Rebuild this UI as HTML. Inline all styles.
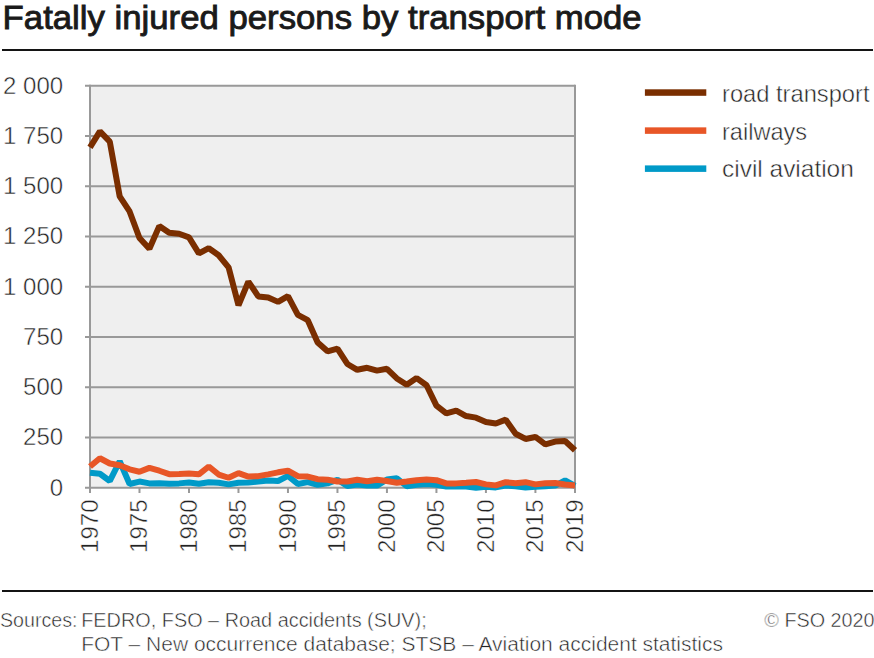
<!DOCTYPE html>
<html><head><meta charset="utf-8"><title>Fatally injured persons by transport mode</title>
<style>html,body{margin:0;padding:0;background:#fff;}svg{display:block;}</style></head>
<body><svg width="874" height="658" viewBox="0 0 874 658">
<text x="2.6" y="29.3" font-family="Liberation Sans, sans-serif" font-size="34" fill="#1a1a1a" stroke="#1a1a1a" stroke-width="0.9" textLength="639" lengthAdjust="spacingAndGlyphs">Fatally injured persons by transport mode</text>
<rect x="2" y="49" width="871" height="2" fill="#141414"/>
<rect x="90.0" y="85.8" width="485.0" height="402.0" fill="#efefef"/>
<line x1="85" y1="487.80" x2="575.0" y2="487.80" stroke="#999999" stroke-width="2"/>
<line x1="85" y1="437.55" x2="575.0" y2="437.55" stroke="#999999" stroke-width="2"/>
<line x1="85" y1="387.30" x2="575.0" y2="387.30" stroke="#999999" stroke-width="2"/>
<line x1="85" y1="337.05" x2="575.0" y2="337.05" stroke="#999999" stroke-width="2"/>
<line x1="85" y1="286.80" x2="575.0" y2="286.80" stroke="#999999" stroke-width="2"/>
<line x1="85" y1="236.55" x2="575.0" y2="236.55" stroke="#999999" stroke-width="2"/>
<line x1="85" y1="186.30" x2="575.0" y2="186.30" stroke="#999999" stroke-width="2"/>
<line x1="85" y1="136.05" x2="575.0" y2="136.05" stroke="#999999" stroke-width="2"/>
<line x1="85" y1="85.80" x2="575.0" y2="85.80" stroke="#999999" stroke-width="2"/>
<line x1="90.0" y1="84.8" x2="90.0" y2="493" stroke="#999999" stroke-width="2"/>
<line x1="575.0" y1="84.8" x2="575.0" y2="493" stroke="#999999" stroke-width="2"/>
<line x1="139.49" y1="487.8" x2="139.49" y2="493" stroke="#999999" stroke-width="2"/>
<line x1="188.98" y1="487.8" x2="188.98" y2="493" stroke="#999999" stroke-width="2"/>
<line x1="238.47" y1="487.8" x2="238.47" y2="493" stroke="#999999" stroke-width="2"/>
<line x1="287.96" y1="487.8" x2="287.96" y2="493" stroke="#999999" stroke-width="2"/>
<line x1="337.45" y1="487.8" x2="337.45" y2="493" stroke="#999999" stroke-width="2"/>
<line x1="386.94" y1="487.8" x2="386.94" y2="493" stroke="#999999" stroke-width="2"/>
<line x1="436.43" y1="487.8" x2="436.43" y2="493" stroke="#999999" stroke-width="2"/>
<line x1="485.92" y1="487.8" x2="485.92" y2="493" stroke="#999999" stroke-width="2"/>
<line x1="535.41" y1="487.8" x2="535.41" y2="493" stroke="#999999" stroke-width="2"/>
<text x="63.1" y="495.50" text-anchor="end" font-family="Liberation Sans, sans-serif" font-size="24" fill="#222222" stroke="#ffffff" stroke-width="0.5">0</text>
<text x="63.1" y="445.25" text-anchor="end" font-family="Liberation Sans, sans-serif" font-size="24" fill="#222222" stroke="#ffffff" stroke-width="0.5">250</text>
<text x="63.1" y="395.00" text-anchor="end" font-family="Liberation Sans, sans-serif" font-size="24" fill="#222222" stroke="#ffffff" stroke-width="0.5">500</text>
<text x="63.1" y="344.75" text-anchor="end" font-family="Liberation Sans, sans-serif" font-size="24" fill="#222222" stroke="#ffffff" stroke-width="0.5">750</text>
<text x="63.1" y="294.50" text-anchor="end" font-family="Liberation Sans, sans-serif" font-size="24" fill="#222222" stroke="#ffffff" stroke-width="0.5">1 000</text>
<text x="63.1" y="244.25" text-anchor="end" font-family="Liberation Sans, sans-serif" font-size="24" fill="#222222" stroke="#ffffff" stroke-width="0.5">1 250</text>
<text x="63.1" y="194.00" text-anchor="end" font-family="Liberation Sans, sans-serif" font-size="24" fill="#222222" stroke="#ffffff" stroke-width="0.5">1 500</text>
<text x="63.1" y="143.75" text-anchor="end" font-family="Liberation Sans, sans-serif" font-size="24" fill="#222222" stroke="#ffffff" stroke-width="0.5">1 750</text>
<text x="63.1" y="93.50" text-anchor="end" font-family="Liberation Sans, sans-serif" font-size="24" fill="#222222" stroke="#ffffff" stroke-width="0.5">2 000</text>
<text transform="translate(97.80,499.5) rotate(-90)" x="0" y="0" text-anchor="end" font-family="Liberation Sans, sans-serif" font-size="24" fill="#222222" stroke="#ffffff" stroke-width="0.5">1970</text>
<text transform="translate(147.29,499.5) rotate(-90)" x="0" y="0" text-anchor="end" font-family="Liberation Sans, sans-serif" font-size="24" fill="#222222" stroke="#ffffff" stroke-width="0.5">1975</text>
<text transform="translate(196.78,499.5) rotate(-90)" x="0" y="0" text-anchor="end" font-family="Liberation Sans, sans-serif" font-size="24" fill="#222222" stroke="#ffffff" stroke-width="0.5">1980</text>
<text transform="translate(246.27,499.5) rotate(-90)" x="0" y="0" text-anchor="end" font-family="Liberation Sans, sans-serif" font-size="24" fill="#222222" stroke="#ffffff" stroke-width="0.5">1985</text>
<text transform="translate(295.76,499.5) rotate(-90)" x="0" y="0" text-anchor="end" font-family="Liberation Sans, sans-serif" font-size="24" fill="#222222" stroke="#ffffff" stroke-width="0.5">1990</text>
<text transform="translate(345.25,499.5) rotate(-90)" x="0" y="0" text-anchor="end" font-family="Liberation Sans, sans-serif" font-size="24" fill="#222222" stroke="#ffffff" stroke-width="0.5">1995</text>
<text transform="translate(394.74,499.5) rotate(-90)" x="0" y="0" text-anchor="end" font-family="Liberation Sans, sans-serif" font-size="24" fill="#222222" stroke="#ffffff" stroke-width="0.5">2000</text>
<text transform="translate(444.23,499.5) rotate(-90)" x="0" y="0" text-anchor="end" font-family="Liberation Sans, sans-serif" font-size="24" fill="#222222" stroke="#ffffff" stroke-width="0.5">2005</text>
<text transform="translate(493.72,499.5) rotate(-90)" x="0" y="0" text-anchor="end" font-family="Liberation Sans, sans-serif" font-size="24" fill="#222222" stroke="#ffffff" stroke-width="0.5">2010</text>
<text transform="translate(543.21,499.5) rotate(-90)" x="0" y="0" text-anchor="end" font-family="Liberation Sans, sans-serif" font-size="24" fill="#222222" stroke="#ffffff" stroke-width="0.5">2015</text>
<text transform="translate(582.80,499.5) rotate(-90)" x="0" y="0" text-anchor="end" font-family="Liberation Sans, sans-serif" font-size="24" fill="#222222" stroke="#ffffff" stroke-width="0.5">2019</text>
<polyline points="90.00,472.73 99.90,473.73 109.80,480.97 119.69,461.27 129.59,483.98 139.49,481.57 149.39,483.38 159.29,483.18 169.18,483.78 179.08,483.38 188.98,482.57 198.88,483.78 208.78,482.17 218.67,482.78 228.57,484.38 238.47,482.78 248.37,482.57 258.27,481.57 268.16,480.56 278.06,480.97 287.96,475.94 297.86,483.98 307.76,482.17 317.65,484.79 327.55,483.38 337.45,479.76 347.35,485.99 357.24,484.58 367.14,485.39 377.04,485.59 386.94,479.56 396.84,478.35 406.73,486.19 416.63,484.79 426.53,483.98 436.43,484.79 446.33,486.59 456.22,486.59 466.12,486.59 476.02,487.80 485.92,486.80 495.82,487.40 505.71,485.59 515.61,486.19 525.51,487.40 535.41,486.80 545.31,486.19 555.20,485.59 565.10,480.36 575.00,485.79" fill="none" stroke="#009ac8" stroke-width="6" stroke-linejoin="bevel"/>
<polyline points="90.00,466.49 99.90,458.25 109.80,463.48 119.69,465.29 129.59,469.31 139.49,471.72 149.39,467.90 159.29,470.72 169.18,474.13 179.08,473.93 188.98,473.53 198.88,474.33 208.78,466.49 218.67,474.53 228.57,477.75 238.47,473.13 248.37,476.54 258.27,476.14 268.16,474.33 278.06,472.32 287.96,470.72 297.86,476.14 307.76,476.54 317.65,479.16 327.55,479.76 337.45,481.57 347.35,481.57 357.24,479.76 367.14,481.17 377.04,479.76 386.94,480.97 396.84,482.78 406.73,481.57 416.63,480.16 426.53,479.56 436.43,480.16 446.33,483.38 456.22,483.38 466.12,482.78 476.02,481.97 485.92,484.38 495.82,485.39 505.71,482.17 515.61,483.18 525.51,482.17 535.41,484.38 545.31,483.18 555.20,482.98 565.10,484.58 575.00,485.39" fill="none" stroke="#e85627" stroke-width="6" stroke-linejoin="bevel"/>
<polyline points="90.00,147.31 99.90,131.43 109.80,141.68 119.69,196.35 129.59,211.43 139.49,237.96 149.39,248.81 159.29,226.10 169.18,232.73 179.08,233.74 188.98,237.35 198.88,253.43 208.78,248.21 218.67,255.24 228.57,267.30 238.47,305.29 248.37,281.57 258.27,296.45 268.16,297.45 278.06,301.88 287.96,296.05 297.86,314.94 307.76,320.17 317.65,342.48 327.55,351.32 337.45,348.71 347.35,363.98 357.24,369.81 367.14,367.80 377.04,370.62 386.94,368.81 396.84,378.46 406.73,384.69 416.63,378.05 426.53,385.29 436.43,405.59 446.33,413.43 456.22,410.62 466.12,416.04 476.02,417.65 485.92,422.07 495.82,423.48 505.71,419.66 515.61,433.73 525.51,438.96 535.41,436.95 545.31,444.38 555.20,441.57 565.10,440.97 575.00,450.21" fill="none" stroke="#7a2e00" stroke-width="6" stroke-linejoin="bevel"/>
<rect x="644.9" y="89.30" width="61.4" height="6.5" fill="#7a2e00"/>
<text x="722" y="102.00" font-family="Liberation Sans, sans-serif" font-size="24" fill="#222222" stroke="#ffffff" stroke-width="0.5" textLength="147.5" lengthAdjust="spacingAndGlyphs">road transport</text>
<rect x="644.9" y="127.35" width="61.4" height="6.5" fill="#e85627"/>
<text x="722" y="139.60" font-family="Liberation Sans, sans-serif" font-size="24" fill="#222222" stroke="#ffffff" stroke-width="0.5" textLength="85" lengthAdjust="spacingAndGlyphs">railways</text>
<rect x="644.9" y="165.40" width="61.4" height="6.5" fill="#009ac8"/>
<text x="722" y="177.20" font-family="Liberation Sans, sans-serif" font-size="24" fill="#222222" stroke="#ffffff" stroke-width="0.5" textLength="131.8" lengthAdjust="spacingAndGlyphs">civil aviation</text>
<rect x="2" y="590" width="871" height="2" fill="#141414"/>
<text x="0" y="627" font-family="Liberation Sans, sans-serif" font-size="19.5" lengthAdjust="spacingAndGlyphs" fill="#222222" stroke="#ffffff" stroke-width="0.5" textLength="77.5">Sources:</text>
<text x="81.2" y="627" font-family="Liberation Sans, sans-serif" font-size="19.5" lengthAdjust="spacingAndGlyphs" fill="#222222" stroke="#ffffff" stroke-width="0.5" textLength="345.5">FEDRO, FSO – Road accidents (SUV);</text>
<text x="81.2" y="651" font-family="Liberation Sans, sans-serif" font-size="19.5" lengthAdjust="spacingAndGlyphs" fill="#222222" stroke="#ffffff" stroke-width="0.5" textLength="641.8">FOT – New occurrence database; STSB – Aviation accident statistics</text>
<text x="764.3" y="626.6" font-family="Liberation Sans, sans-serif" font-size="19.5" lengthAdjust="spacingAndGlyphs" fill="#222222" stroke="#ffffff" stroke-width="0.5" textLength="110.3">© FSO 2020</text>
</svg></body></html>
